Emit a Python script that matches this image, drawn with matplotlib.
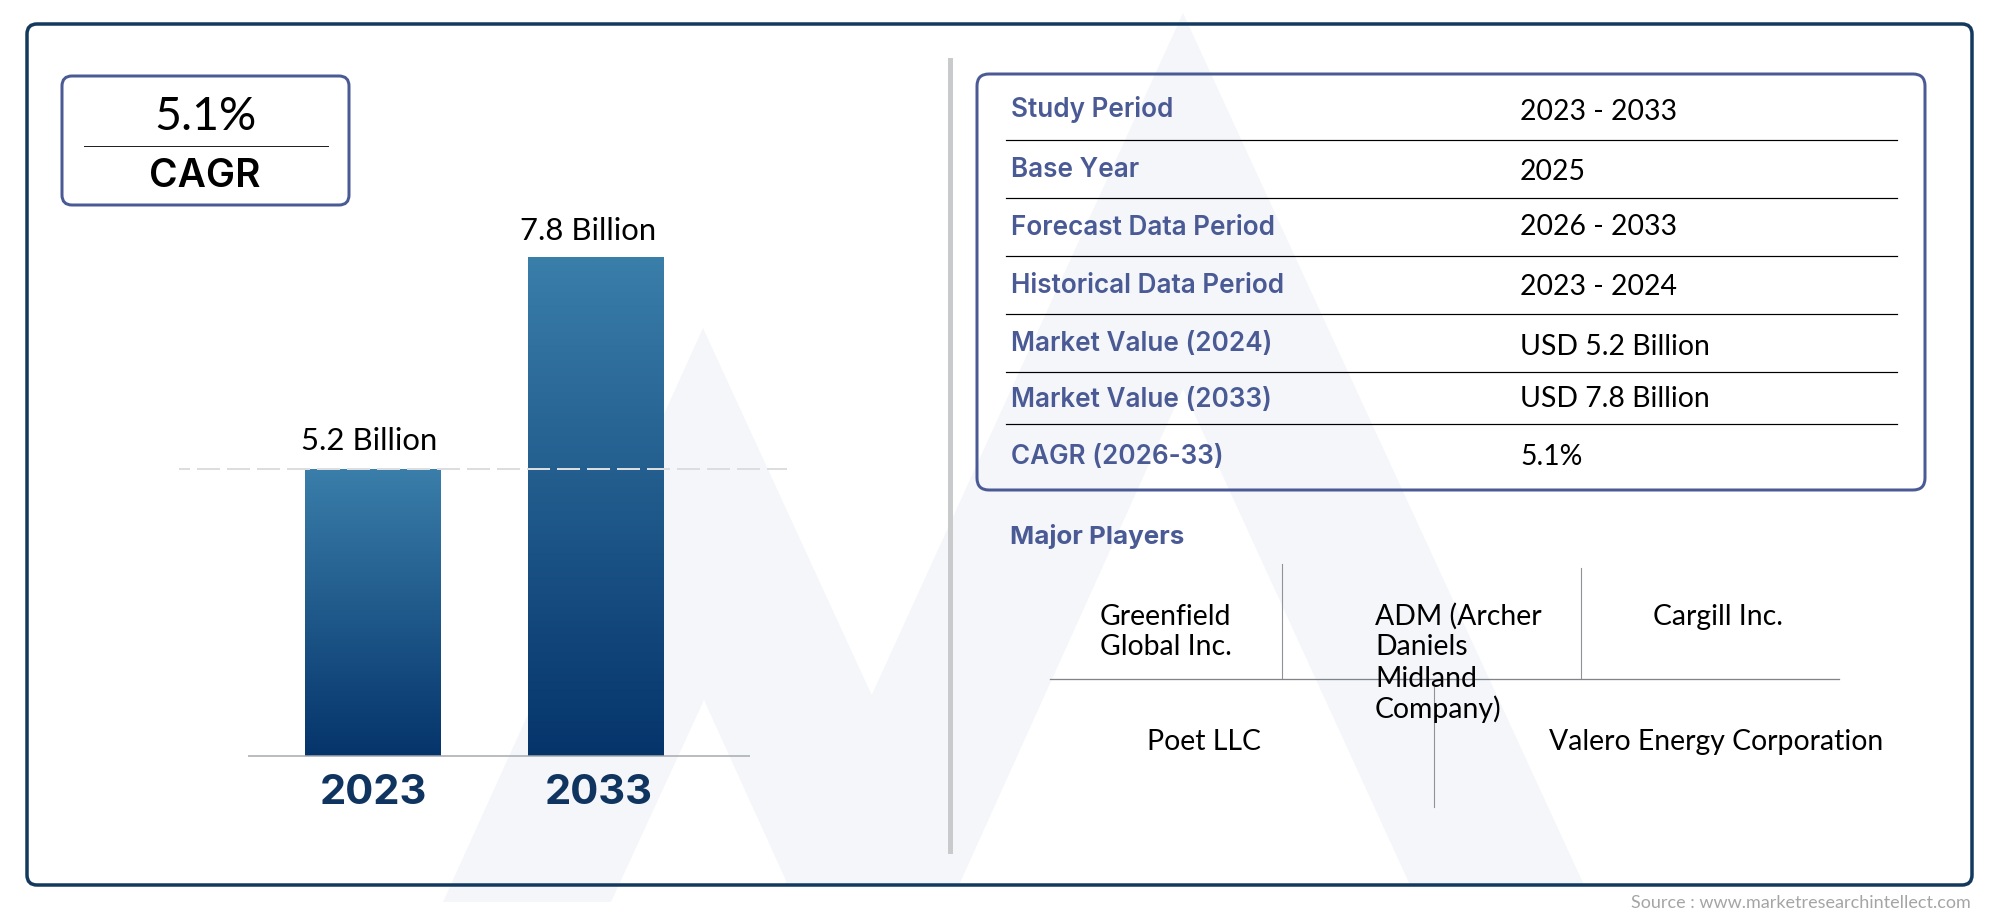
import numpy as np
import matplotlib
matplotlib.use("Agg")
import matplotlib.pyplot as plt
from matplotlib.patches import FancyBboxPatch, Polygon, Rectangle
from matplotlib.colors import LinearSegmentedColormap
from matplotlib.transforms import ScaledTranslation

years = ["2023", "2033"]
values = [5.2, 7.8]
value_labels = ["5.2 Billion", "7.8 Billion"]
cagr_value = "5.1%"
cagr_label = "CAGR"
row_names = ["Study Period", "Base Year", "Forecast Data Period", "Historical Data Period",
             "Market Value (2024)", "Market Value (2033)", "CAGR (2026-33)"]
row_values = ["2023 - 2033", "2025", "2026 - 2033", "2023 - 2024",
              "USD 5.2 Billion", "USD 7.8 Billion", "5.1%"]
players_title = "Major Players"
source = "Source : www.marketresearchintellect.com"

W, H = 2000, 917
NAVY = "#133a5e"
BLUE = "#4a5a94"
BODY = "Lato"
HEAD = "Inter"

fig = plt.figure(figsize=(W / 100, H / 100), dpi=100, facecolor="white")
bg = fig.add_axes([0, 0, 1, 1], zorder=0)
bg.set_xlim(0, W)
bg.set_ylim(H, 0)
bg.axis("off")

def px(v):
    return v * 0.72

# watermark
wm = dict(facecolor="#f4f6fa", edgecolor="none", zorder=1)
bg.add_patch(Polygon([(703, 328), (959, 885), (788, 885), (704, 700), (611, 902), (443, 902)], **wm))
bg.add_patch(Polygon([(1183, 13), (1584, 885), (1410, 885), (1183, 389), (959, 885), (785, 885)], **wm))

def box(x0, y0, x1, y1, color, lw, r):
    bg.add_patch(FancyBboxPatch((x0, y0), x1 - x0, y1 - y0, boxstyle=f"round,pad=0,rounding_size={r}",
                                facecolor="none", edgecolor=color, linewidth=px(lw), zorder=3))

def T(x, y, s, size, color="black", family=BODY, weight="normal", ha="left"):
    bg.text(x, y, s, fontsize=size, color=color, family=family, weight=weight, ha=ha, va="baseline", zorder=5)

box(27, 24, 1972, 885, NAVY, 3.5, 10)
bg.add_patch(Rectangle((948, 58), 5, 796, facecolor="#c9cacb", edgecolor="none", zorder=2))

# CAGR box
box(62, 76, 349, 205, BLUE, 3, 10)
bg.plot([84, 328], [146, 146], color="#222222", lw=px(1), zorder=3)
T(205, 130, cagr_value, 33.5, ha="center")
T(205, 187, cagr_label, 28, family=HEAD, weight="semibold", ha="center")

# Study table
box(977, 74, 1925, 490, BLUE, 3, 12)
for yy in [140, 198, 256, 314, 372, 424]:
    bg.plot([1006, 1897], [yy, yy], color="black", lw=px(1.2), zorder=3)
name_base = [117, 177, 235, 293, 351, 407, 464]
val_base = [120, 180, 235, 295, 355, 407, 465]
for s, b in zip(row_names, name_base):
    T(1011, b, s, 18.8, color=BLUE, family=HEAD, weight="semibold")
for s, b in zip(row_values, val_base):
    T(1520, b, s, 20.4)

# Players
T(1010, 544, players_title, 18.7, color=BLUE, family=HEAD, weight="bold")
for s, x, y in [("Greenfield", 1100, 625), ("Global Inc.", 1100, 655),
                ("ADM (Archer", 1375, 625), ("Daniels", 1375, 655),
                ("Midland", 1375, 687), ("Company)", 1375, 718)]:
    T(x, y, s, 20.4)
T(1718, 625, "Cargill Inc.", 20.4, ha="center")
T(1204, 750, "Poet LLC", 20.4, ha="center")
T(1716, 750, "Valero Energy Corporation", 20.4, ha="center")
bg.plot([1050, 1839], [679, 679], color="#80848a", lw=px(1.3), zorder=3)
for x, y0, y1 in [(1282, 564, 678), (1581, 568, 678), (1434, 687, 807)]:
    bg.plot([x, x], [y0, y1], color="#8f9297", lw=px(1.1), zorder=3)

T(1971, 908, source, 13, color="#a5a5a5", family="Lato", ha="right")

# Bar chart
L, R, TOP, BOT = 179, 787, 224.6, 756
ax = fig.add_axes([L / W, 1 - BOT / H, (R - L) / W, (BOT - TOP) / H], zorder=1)
ax.patch.set_alpha(0)
for s in ax.spines.values():
    s.set_visible(False)
xs = np.arange(len(years))
unit = 223.0
xlim = ((L - 373) / unit, (R - 373) / unit)
ylim = (1.68, 8.2)
grad = LinearSegmentedColormap.from_list("g", ["#3a7eaa", "#05346b"])
bars = ax.bar(xs, values, width=136 / unit, color="none")
for b in bars:
    x0, w, h = b.get_x(), b.get_width(), b.get_height()
    im = ax.imshow(np.linspace(0, 1, 256).reshape(-1, 1), cmap=grad, aspect="auto",
                   extent=(x0, x0 + w, ylim[0], h), origin="upper", zorder=2)
    im.set_clip_path(Rectangle((x0, ylim[0]), w, h - ylim[0], transform=ax.transData))
ax.set_xlim(*xlim)
ax.set_ylim(*ylim)
ax.set_yticks([])
ax.set_xticks(xs, years, fontsize=30, fontweight="bold", family=HEAD, color="#0f3460")
ax.tick_params(axis="x", length=0, pad=13)
second = ax.get_xticklabels()[1]
second.set_transform(second.get_transform() + ScaledTranslation(2.5 / 100, 0, fig.dpi_scale_trans))
ax.hlines(ylim[0], -0.56, 1.69, color="#a5a8ac", lw=px(1.5), zorder=3, clip_on=False)
ax.hlines(values[0], xlim[0], xlim[1], color="#dcdddf", lw=px(2),
          linestyles=(6, (11.5, 3.5)), zorder=4)
for x, v, s, dx, dy in zip(xs, values, value_labels, (-3.5, -8), (19, 17)):
    ax.annotate(s, (x, v), xytext=(px(dx), px(dy)), textcoords="offset points", ha="center", va="baseline",
                fontsize=22.4, family=BODY, color="black")

fig.savefig("out.png", dpi=100)
